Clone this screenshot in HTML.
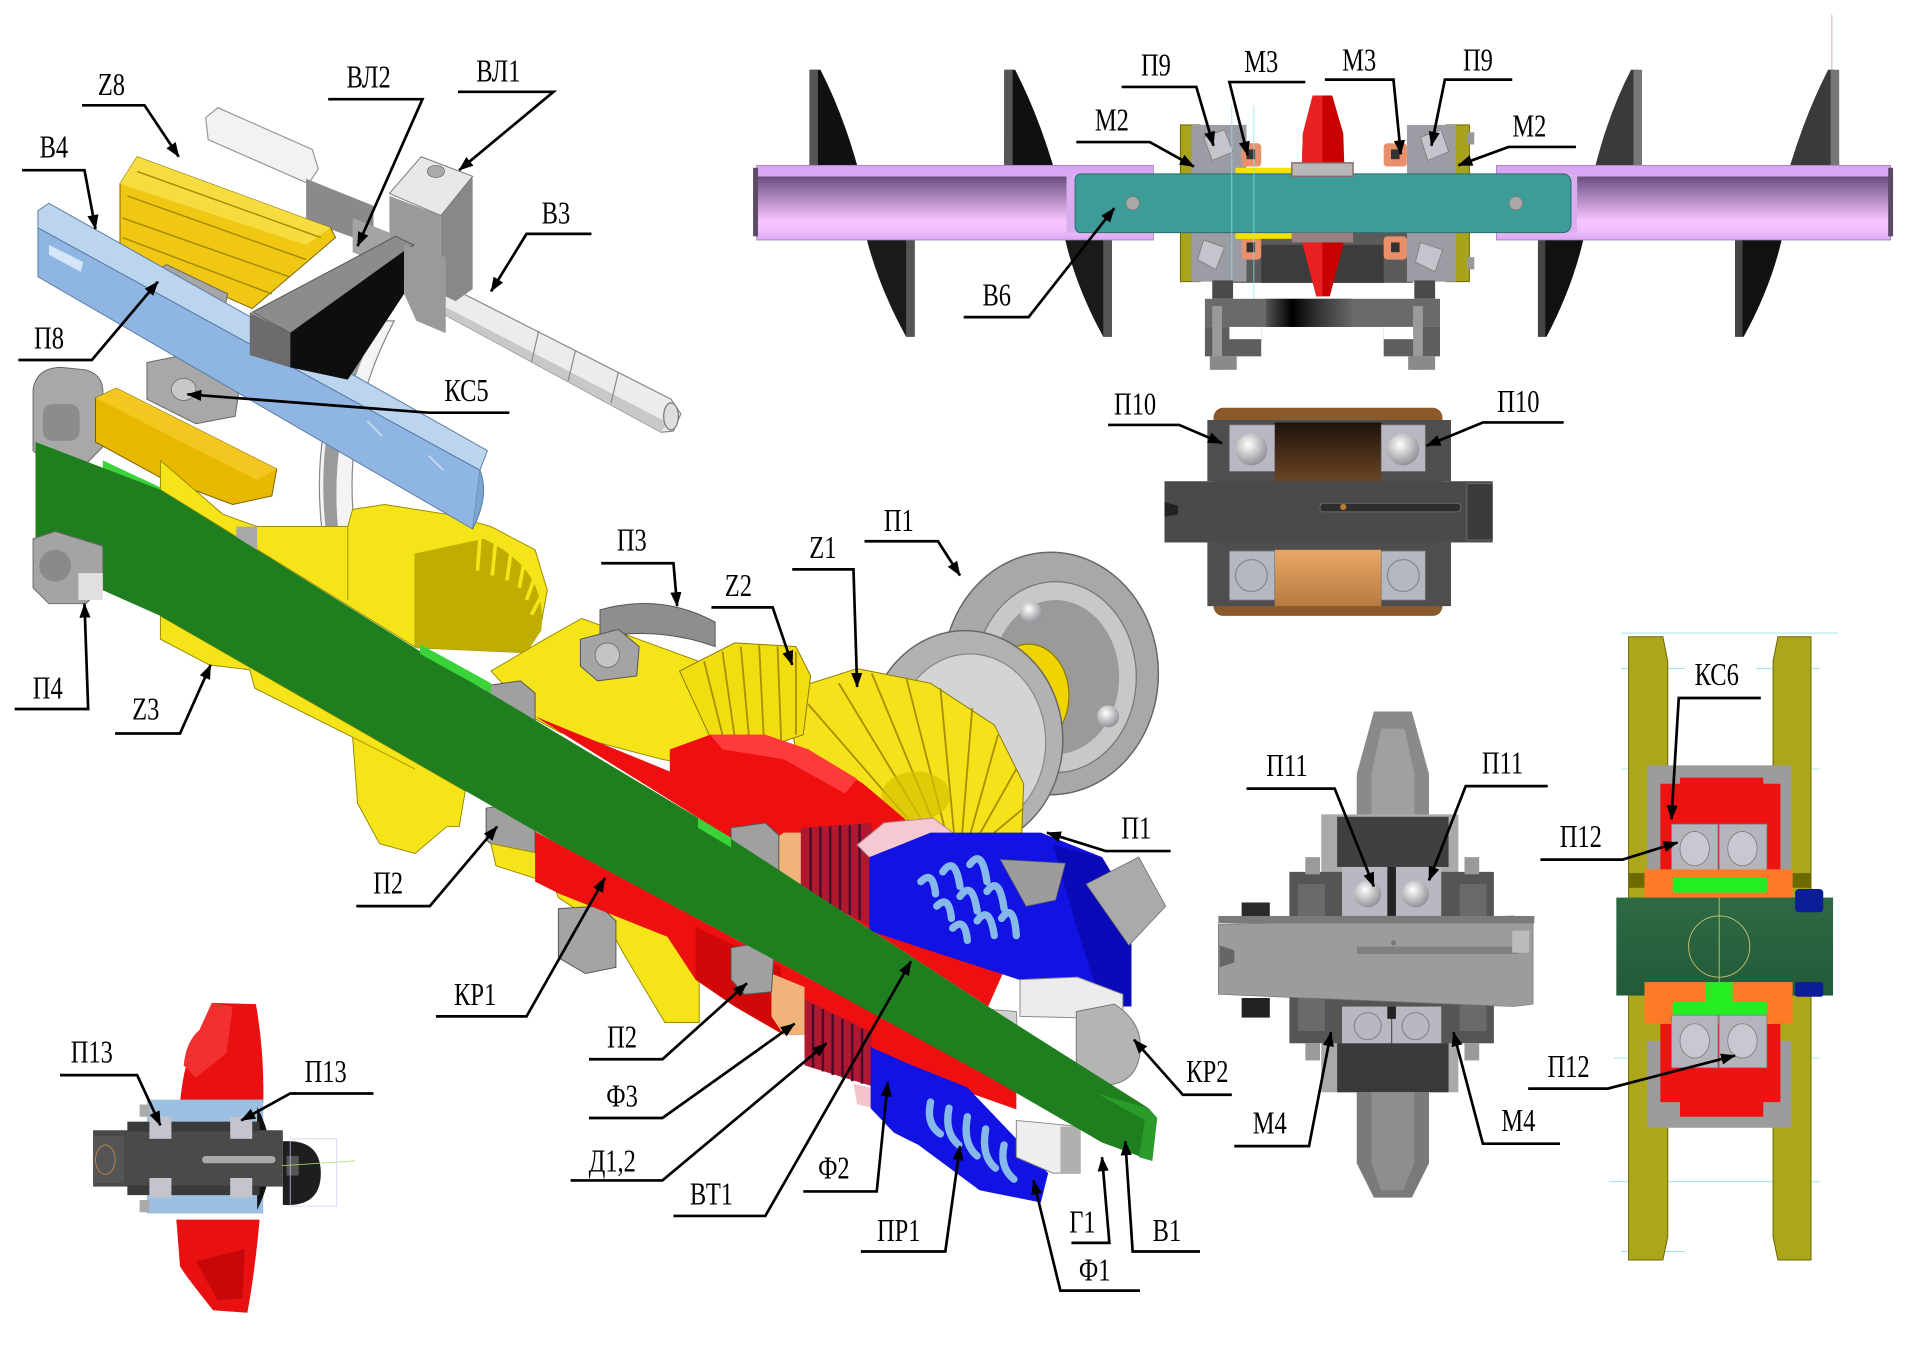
<!DOCTYPE html>
<html><head><meta charset="utf-8">
<style>
html,body{margin:0;padding:0;background:#fff;}
svg{display:block}
.t{font-family:"Liberation Serif","DejaVu Serif",serif;font-size:20px;text-anchor:middle;fill:#000}
.L{fill:none;stroke:#000;stroke-width:2.2;stroke-linejoin:miter}
</style></head><body>
<svg width="1920" height="1358" viewBox="0 0 1568 1109" preserveAspectRatio="none" xmlns="http://www.w3.org/2000/svg">
<defs>
<marker id="a" viewBox="0 0 10 10" refX="9.5" refY="5" markerWidth="12" markerHeight="12" markerUnits="userSpaceOnUse" orient="auto"><path d="M0,1.2 L10,5 L0,8.8 Z" fill="#000"/></marker>
<linearGradient id="pur" x1="0" y1="0" x2="0" y2="1">
<stop offset="0" stop-color="#d8a6f2"/><stop offset="0.14" stop-color="#d8a6f2"/><stop offset="0.16" stop-color="#6f4f82"/><stop offset="0.3" stop-color="#8e6ca4"/><stop offset="0.75" stop-color="#f8c4ff"/><stop offset="0.88" stop-color="#f0bcfc"/><stop offset="1" stop-color="#d8a6f2"/>
</linearGradient>
<linearGradient id="blk" x1="0" y1="0" x2="1" y2="0">
<stop offset="0" stop-color="#555"/><stop offset="0.3" stop-color="#000"/><stop offset="0.6" stop-color="#333"/><stop offset="1" stop-color="#666"/>
</linearGradient>
<linearGradient id="brn" x1="0" y1="0" x2="0" y2="1">
<stop offset="0" stop-color="#1e120a"/><stop offset="1" stop-color="#6a4526"/>
</linearGradient>
<linearGradient id="tan" x1="0" y1="0" x2="0" y2="1">
<stop offset="0" stop-color="#e8a868"/><stop offset="1" stop-color="#b87a40"/>
</linearGradient>
<radialGradient id="ball" cx="0.4" cy="0.35" r="0.7">
<stop offset="0" stop-color="#ffffff"/><stop offset="1" stop-color="#8a8a90"/>
</radialGradient>
<linearGradient id="dg" x1="0" y1="0" x2="0" y2="1">
<stop offset="0" stop-color="#2d6a44"/><stop offset="1" stop-color="#235a38"/>
</linearGradient>
</defs>

<!-- TOP RIGHT -->
<line x1="1496" y1="12" x2="1496" y2="57" stroke="#e0a0c8" stroke-width="0.8"/>
<path d="M662,57 L670,57 Q688,92 700,135 L661,135 Z" fill="#101010"/>
<rect x="661" y="57" width="7" height="78" fill="#555"/>
<path d="M821,57 L829,57 Q847,92 860,135 L820,135 Z" fill="#101010"/>
<rect x="820" y="57" width="7" height="78" fill="#555"/>
<path d="M1338,57 L1332,57 Q1314,92 1303,135 L1341,135 Z" fill="#3a3a3a"/>
<rect x="1334" y="57" width="7" height="78" fill="#777"/>
<path d="M1499,57 L1493,57 Q1475,92 1462,135 L1502,135 Z" fill="#3a3a3a"/>
<rect x="1495" y="57" width="7" height="78" fill="#777"/>
<path d="M708,196 L747,196 L747,275 L740,275 Q718,235 708,196 Z" fill="#1a1a1a"/>
<rect x="740" y="196" width="7" height="79" fill="#555"/>
<path d="M870,196 L908,196 L908,275 L901,275 Q879,235 870,196 Z" fill="#1a1a1a"/>
<rect x="901" y="196" width="7" height="79" fill="#555"/>
<path d="M1293,196 L1256,196 L1256,275 L1263,275 Q1284,235 1293,196 Z" fill="#111"/>
<rect x="1256" y="196" width="6" height="79" fill="#444"/>
<path d="M1455,196 L1417,196 L1417,275 L1424,275 Q1446,235 1455,196 Z" fill="#111"/>
<rect x="1417" y="196" width="6" height="79" fill="#444"/>

<rect x="1007" y="190" width="147" height="41" fill="#5a5a5a"/>
<rect x="1030" y="200" width="100" height="31" fill="#3c3c3c"/>
<rect x="964" y="102" width="16" height="128" fill="#a8a21c" stroke="#6a6600" stroke-width="0.8"/>
<rect x="973" y="102" width="45" height="40" fill="#9c9ca4"/>
<rect x="973" y="189" width="45" height="41" fill="#9c9ca4"/>
<polygon points="983,112 1000,106 1007,124 990,131" fill="#c4c4cc" stroke="#777" stroke-width="0.6"/>
<polygon points="983,196 1000,202 993,220 978,212" fill="#c4c4cc" stroke="#777" stroke-width="0.6"/>
<rect x="1014" y="117" width="16" height="19" rx="3" fill="#e8906c"/>
<rect x="1014" y="193" width="16" height="19" rx="3" fill="#e8906c"/>
<rect x="1018" y="122" width="7" height="8" fill="#333"/>
<rect x="1018" y="198" width="7" height="8" fill="#333"/>
<rect x="1181" y="102" width="19" height="128" fill="#a8a21c" stroke="#6a6600" stroke-width="0.8"/>
<rect x="1149" y="102" width="40" height="40" fill="#9c9ca4"/>
<rect x="1149" y="189" width="40" height="41" fill="#9c9ca4"/>
<polygon points="1160,112 1177,106 1183,124 1166,131" fill="#c4c4cc" stroke="#777" stroke-width="0.6"/>
<polygon points="1160,198 1178,204 1172,222 1156,214" fill="#c4c4cc" stroke="#777" stroke-width="0.6"/>
<rect x="1130" y="117" width="19" height="19" rx="3" fill="#e8906c"/>
<rect x="1130" y="193" width="19" height="19" rx="3" fill="#e8906c"/>
<rect x="1136" y="122" width="7" height="8" fill="#333"/>
<rect x="1136" y="198" width="7" height="8" fill="#333"/>
<rect x="1198" y="108" width="6" height="10" fill="#999"/>
<rect x="1198" y="210" width="6" height="10" fill="#999"/>
<path d="M1072,78 L1088,78 L1097,109 L1098,140 L1097,200 L1086,242 L1075,242 L1064,200 L1063,140 L1064,109 Z" fill="#c80000"/>
<path d="M1072,78 L1064,109 L1063,140 L1064,200 L1075,242 L1080,242 L1080,78 Z" fill="#e82020"/>
<rect x="1009" y="137" width="46" height="5" fill="#f2e400"/>
<rect x="1009" y="190" width="46" height="5" fill="#f2e400"/>

<rect x="618" y="135" width="324" height="61" fill="url(#pur)" stroke="#9c7ab4" stroke-width="0.6"/>
<rect x="615" y="137" width="4" height="56" fill="#5a4a66"/>
<rect x="1222" y="135" width="322" height="61" fill="url(#pur)" stroke="#9c7ab4" stroke-width="0.6"/>
<rect x="1542" y="137" width="4" height="56" fill="#5a4a66"/>
<rect x="871" y="142" width="12" height="48" fill="#d9aef0"/>
<rect x="1276" y="142" width="12" height="48" fill="#d9aef0"/>
<path d="M883,142 L1276,142 Q1283,142 1283,150 L1283,182 Q1283,190 1276,190 L883,190 Q878,190 878,184 L878,148 Q878,142 883,142 Z" fill="#3d9b98" stroke="#2a6e6c" stroke-width="0.8"/>
<circle cx="925" cy="166" r="5.5" fill="#a8a8a8" stroke="#777" stroke-width="0.6"/>
<circle cx="1238" cy="166" r="5.5" fill="#a8a8a8" stroke="#777" stroke-width="0.6"/>
<rect x="1055" y="133" width="50" height="11" fill="#b8b8b8" stroke="#8a6a6a" stroke-width="1.2"/>
<rect x="1055" y="190" width="50" height="8" fill="#9a8080"/>
<line x1="1006" y1="86" x2="1006" y2="244" stroke="#8fe0e8" stroke-width="0.6"/>
<line x1="1024" y1="86" x2="1024" y2="244" stroke="#8fe0e8" stroke-width="0.6"/>
<rect x="990" y="229" width="17" height="15" fill="#4a4a4a"/>
<rect x="1155" y="229" width="17" height="15" fill="#4a4a4a"/>
<rect x="984" y="244" width="192" height="23" fill="#6a6a6a"/>
<rect x="1034" y="244" width="70" height="23" fill="url(#blk)"/>
<rect x="984" y="267" width="46" height="24" fill="#5e5e5e"/>
<rect x="1004" y="267" width="26" height="10" fill="#fff"/>
<rect x="1130" y="267" width="46" height="24" fill="#5e5e5e"/>
<rect x="1130" y="267" width="26" height="10" fill="#fff"/>
<rect x="990" y="250" width="8" height="52" fill="#9a9a9a"/>
<rect x="1154" y="250" width="8" height="52" fill="#9a9a9a"/>
<rect x="988" y="291" width="22" height="11" fill="#8a8a8a"/>
<rect x="1150" y="291" width="22" height="11" fill="#8a8a8a"/>

<!-- П10 -->
<rect x="991" y="333" width="187" height="170" rx="8" fill="#8b5a2b"/>
<rect x="986" y="343" width="199" height="50" fill="#4e4e4e"/>
<rect x="1041" y="345" width="87" height="48" fill="url(#brn)"/>
<rect x="1004" y="347" width="37" height="38" fill="#b8b8c2" stroke="#777" stroke-width="0.6"/>
<circle cx="1022" cy="367" r="13" fill="url(#ball)"/>
<rect x="1128" y="347" width="36" height="38" fill="#b8b8c2" stroke="#777" stroke-width="0.6"/>
<circle cx="1146" cy="367" r="13" fill="url(#ball)"/>
<rect x="986" y="443" width="199" height="52" fill="#4e4e4e"/>
<rect x="1041" y="449" width="87" height="46" fill="url(#tan)"/>
<rect x="1004" y="450" width="37" height="40" fill="#b4b8c0" stroke="#777" stroke-width="0.6"/>
<circle cx="1022" cy="470" r="13" fill="none" stroke="#888" stroke-width="1"/>
<rect x="1128" y="450" width="36" height="40" fill="#b4b8c0" stroke="#777" stroke-width="0.6"/>
<circle cx="1146" cy="470" r="13" fill="none" stroke="#888" stroke-width="1"/>
<rect x="951" y="393" width="268" height="50" fill="#4a4a4a"/>
<rect x="1198" y="395" width="21" height="46" fill="#3a3a3a" stroke="#777" stroke-width="0.6"/>
<rect x="1078" y="411" width="115" height="7" rx="3" fill="#2e2e2e" stroke="#777" stroke-width="0.6"/>
<circle cx="1097" cy="414" r="2.5" fill="#c07830"/>
<polygon points="951,410 962,413 962,420 951,422" fill="#222"/>

<!-- П11 -->
<polygon points="1122,581 1153,581 1167,632 1167,668 1108,668 1108,632" fill="#8a8a8a"/>
<polygon points="1128,595 1147,595 1155,632 1155,668 1120,668 1120,632" fill="#a0a0a0"/>
<rect x="1079" y="665" width="112" height="227" fill="#aaaaaa"/>
<rect x="1053" y="712" width="167" height="140" fill="#555"/>
<rect x="1060" y="722" width="22" height="120" fill="#6a6a6a"/>
<rect x="1192" y="722" width="22" height="120" fill="#6a6a6a"/>
<rect x="1092" y="667" width="91" height="41" fill="#404040"/>
<rect x="1096" y="708" width="40" height="40" fill="#b8b8c2"/>
<rect x="1137" y="708" width="40" height="40" fill="#b8b8c2"/>
<circle cx="1117" cy="730" r="11" fill="url(#ball)"/>
<circle cx="1156" cy="730" r="11" fill="url(#ball)"/>
<rect x="1133" y="708" width="7" height="40" fill="#222"/>
<rect x="1066" y="700" width="12" height="14" fill="#9a9a9a"/>
<rect x="1196" y="700" width="12" height="14" fill="#9a9a9a"/>
<rect x="1066" y="852" width="12" height="14" fill="#9a9a9a"/>
<rect x="1196" y="852" width="12" height="14" fill="#9a9a9a"/>
<rect x="1014" y="737" width="23" height="14" fill="#2a2a2a"/>
<rect x="1014" y="815" width="23" height="16" fill="#222"/>
<polygon points="995,755 1236,748 1252,752 1252,820 1236,822 995,812" fill="#9c9c9c" stroke="#777" stroke-width="0.6"/>
<rect x="995" y="748" width="258" height="6" fill="#7a7a7a"/>
<polygon points="996,772 1008,776 1008,786 996,790" fill="#666"/>
<rect x="1108" y="773" width="132" height="6" fill="#808080"/>
<circle cx="1138" cy="770" r="2" fill="#777"/>
<rect x="1235" y="760" width="14" height="18" fill="#bbb"/>
<rect x="1096" y="822" width="40" height="32" fill="#b8b8c2"/>
<rect x="1137" y="822" width="40" height="32" fill="#b8b8c2"/>
<circle cx="1117" cy="838" r="11" fill="none" stroke="#888"/>
<circle cx="1156" cy="838" r="11" fill="none" stroke="#888"/>
<rect x="1133" y="822" width="7" height="10" fill="#222"/>
<rect x="1092" y="852" width="91" height="40" fill="#3a3a3a"/>
<polygon points="1108,892 1167,892 1167,950 1153,978 1122,978 1108,950" fill="#7a7a7a"/>
<polygon points="1120,892 1155,892 1155,950 1146,972 1128,972 1120,950" fill="#8e8e8e"/>

<!-- КС6 -->
<g stroke="#8fe0e8" stroke-width="0.7">
<line x1="1324" y1="517" x2="1501" y2="517"/>
<line x1="1324" y1="546" x2="1376" y2="546"/><line x1="1434" y1="546" x2="1486" y2="546"/>
<line x1="1324" y1="628" x2="1486" y2="628"/>
<line x1="1318" y1="864" x2="1486" y2="864"/>
<line x1="1314" y1="965" x2="1486" y2="965"/>
<line x1="1324" y1="1022" x2="1376" y2="1022"/>
</g>
<polygon points="1330,520 1358,520 1362,540 1362,1010 1358,1029 1330,1029" fill="#aca61a" stroke="#6a6600" stroke-width="0.8"/>
<polygon points="1452,520 1479,520 1479,1029 1452,1029 1448,1010 1448,540" fill="#aca61a" stroke="#6a6600" stroke-width="0.8"/>
<rect x="1330" y="713" width="149" height="12" fill="#6a6a00"/>
<rect x="1345" y="625" width="118" height="100" fill="#9c9c9c"/>
<polygon points="1356,640 1372,640 1372,635 1440,635 1440,640 1454,640 1454,710 1356,710" fill="#ee1212"/>
<rect x="1365" y="673" width="38" height="42" fill="#b4b4bc" stroke="#777" stroke-width="0.6"/>
<rect x="1404" y="673" width="39" height="42" fill="#b4b4bc" stroke="#777" stroke-width="0.6"/>
<ellipse cx="1384" cy="693" rx="12" ry="14" fill="#c8c8d0" stroke="#777" stroke-width="0.6"/>
<ellipse cx="1423" cy="693" rx="12" ry="14" fill="#c8c8d0" stroke="#777" stroke-width="0.6"/>
<rect x="1343" y="710" width="121" height="33" fill="#ff7a24"/>
<rect x="1366" y="717" width="77" height="12" rx="2" fill="#22ee22"/>
<rect x="1320" y="733" width="177" height="80" fill="url(#dg)"/>
<rect x="1466" y="726" width="23" height="19" rx="3" fill="#0b1e96"/>
<rect x="1466" y="802" width="23" height="12" rx="2" fill="#0b1e96"/>
<line x1="1404" y1="733" x2="1404" y2="813" stroke="#c8c870" stroke-width="0.7"/>
<circle cx="1404" cy="773" r="25" fill="none" stroke="#c8c870" stroke-width="0.7"/>
<rect x="1345" y="850" width="118" height="71" fill="#9c9c9c"/>
<polygon points="1356,836 1454,836 1454,900 1440,900 1440,912 1372,912 1372,900 1356,900" fill="#ee1212"/>
<rect x="1343" y="802" width="121" height="34" fill="#ff7a24"/>
<rect x="1393" y="802" width="22" height="17" fill="#22ee22"/>
<rect x="1366" y="818" width="77" height="11" rx="2" fill="#22ee22"/>
<rect x="1365" y="829" width="38" height="43" fill="#b4b4bc" stroke="#777" stroke-width="0.6"/>
<rect x="1404" y="829" width="39" height="43" fill="#b4b4bc" stroke="#777" stroke-width="0.6"/>
<ellipse cx="1384" cy="850" rx="12" ry="14" fill="#c8c8d0" stroke="#777" stroke-width="0.6"/>
<ellipse cx="1423" cy="850" rx="12" ry="14" fill="#c8c8d0" stroke="#777" stroke-width="0.6"/>

<!-- П13 -->
<path d="M173,819 L209,820 Q216,860 215,901 L147,901 Q150,865 163,841 Z" fill="#e81010"/>
<path d="M173,819 L190,822 L185,860 L160,880 L150,870 Q152,850 163,841 Z" fill="#f23030"/>
<path d="M144,996 L212,996 Q208,1040 202,1072 L174,1070 Q150,1040 147,1034 Z" fill="#e81010"/>
<path d="M160,1030 L200,1020 L198,1060 L178,1062 Z" fill="#c80808"/>
<rect x="120" y="898" width="95" height="19" fill="#9cc0e2"/>
<rect x="120" y="975" width="95" height="16" fill="#9cc0e2"/>
<rect x="114" y="902" width="8" height="10" fill="#aaa"/>
<rect x="114" y="980" width="8" height="10" fill="#aaa"/>
<path d="M210,904 Q232,945 210,988 Z" fill="#111"/>
<rect x="76" y="923" width="155" height="46" fill="#4a4a4a"/>
<rect x="104" y="916" width="108" height="8" fill="#3a3a3a"/>
<rect x="104" y="968" width="108" height="8" fill="#3a3a3a"/>
<rect x="122" y="912" width="18" height="18" fill="#c4c4cc"/>
<rect x="188" y="912" width="18" height="18" fill="#c4c4cc"/>
<rect x="122" y="962" width="18" height="16" fill="#c4c4cc"/>
<rect x="188" y="962" width="18" height="16" fill="#c4c4cc"/>
<rect x="76" y="928" width="25" height="38" fill="#555"/>
<ellipse cx="86" cy="947" rx="8" ry="12" fill="none" stroke="#c08a50" stroke-width="0.7"/>
<rect x="165" y="944" width="60" height="6" rx="3" fill="#aaa"/>
<path d="M231,932 Q262,930 262,958 Q262,986 231,984 Z" fill="#1e1e1e"/>
<rect x="234" y="944" width="10" height="16" fill="#555"/>
<line x1="230" y1="952" x2="290" y2="948" stroke="#b0e070" stroke-width="0.7"/>
<rect x="237" y="930" width="38" height="55" fill="none" stroke="#c8d0f0" stroke-width="0.6"/>

<!-- LEFT TOP -->
<path d="M300,262 Q248,340 265,448 L292,448 Q275,350 322,262 Z" fill="#f4f4f4" stroke="#888" stroke-width="1"/>
<path d="M300,262 Q252,340 268,448 L278,448 Q264,350 310,262 Z" fill="#9a9a9a"/>
<path d="M168,96 L178,88 L255,122 L260,138 L252,150 L170,114 Z" fill="#f2f2f2" stroke="#999" stroke-width="1"/>
<polygon points="250,146 305,168 305,200 250,180" fill="#8a8a8a"/>
<polygon points="288,178 318,190 318,218 288,206" fill="#a4a4a4"/>
<polygon points="98,150 112,128 270,186 274,194 206,252 98,204" fill="#f0c814" stroke="#7a6400" stroke-width="0.8"/>
<polygon points="98,150 112,128 270,186 250,200" fill="#f7dc40"/>
<g stroke="#a88a00" stroke-width="1.2">
<line x1="112" y1="140" x2="262" y2="194"/><line x1="104" y1="160" x2="250" y2="212"/>
<line x1="100" y1="178" x2="236" y2="226"/><line x1="100" y1="194" x2="222" y2="240"/>
</g>
<polygon points="120,226 136,216 186,240 182,258 164,262 120,242" fill="#a6a6a6" stroke="#666" stroke-width="0.8"/>
<ellipse cx="140" cy="236" rx="9" ry="8" fill="#c4c4c4" stroke="#666" stroke-width="0.6"/>
<ellipse cx="165" cy="248" rx="9" ry="8" fill="#c4c4c4" stroke="#666" stroke-width="0.6"/>
<polygon points="343,222 548,326 556,338 550,352 540,353 343,246" fill="#ececec" stroke="#8a8a8a" stroke-width="1"/>
<polygon points="343,240 545,345 540,353 343,246" fill="#c8c8c8"/>
<g stroke="#8a8a8a" stroke-width="1"><line x1="440" y1="270" x2="434" y2="296"/><line x1="470" y1="286" x2="464" y2="311"/><line x1="505" y1="304" x2="499" y2="329"/></g>
<ellipse cx="548" cy="340" rx="6" ry="11" fill="#ddd" stroke="#777" stroke-width="1"/>
<polygon points="318,160 360,176 360,240 330,226 318,220" fill="#9a9a9a"/>
<polygon points="360,160 386,145 386,236 372,246 360,240" fill="#888"/>
<polygon points="318,158 344,128 386,144 360,176" fill="#e8e8e8" stroke="#777" stroke-width="0.8"/>
<ellipse cx="356" cy="140" rx="7" ry="5" fill="#aaa" stroke="#666" stroke-width="0.6"/>

<path d="M27,318 Q30,300 50,300 L70,302 Q84,306 84,320 L84,365 L70,379 L40,379 L27,368 Z" fill="#a8a8a8" stroke="#666" stroke-width="0.8"/>
<rect x="35" y="330" width="30" height="30" rx="8" fill="#8c8c8c"/>
<polygon points="78,325 95,317 226,383 222,405 190,412 131,390 78,361" fill="#e8b800" stroke="#7a6000" stroke-width="0.8"/>
<polygon points="78,325 95,317 226,383 210,392" fill="#f2c820"/>
<polygon points="120,296 150,290 196,314 192,340 160,346 120,326" fill="#a8a8a8" stroke="#666" stroke-width="0.8"/>
<ellipse cx="150" cy="318" rx="10" ry="9" fill="#c8c8c8" stroke="#666" stroke-width="0.6"/>

<polygon points="131,376 182,420 210,430 284,430 288,416 314,412 365,420 401,430 437,449 447,482 441,514 430,533 340,529 131,400" fill="#f5e418" stroke="#9a8a00" stroke-width="0.8"/>
<polygon points="193,430 210,430 210,452 193,448" fill="#a8a8a8"/>
<line x1="284" y1="430" x2="284" y2="490" stroke="#b8a400" stroke-width="1"/>
<line x1="339" y1="452" x2="339" y2="529" stroke="#b8a400" stroke-width="1"/>
<path d="M339,452 L395,440 Q448,465 442,515 L430,533 L339,529 Z" fill="#bfae00"/>
<g stroke="#f5e418" stroke-width="3">
<line x1="405" y1="440" x2="402" y2="470"/><line x1="418" y1="446" x2="414" y2="474"/><line x1="429" y1="455" x2="424" y2="480"/><line x1="438" y1="468" x2="430" y2="490"/><line x1="443" y1="485" x2="434" y2="502"/><line x1="392" y1="438" x2="390" y2="466"/>
</g>
<polygon points="84,376 131,398 131,406 84,385" fill="#3ad43a"/>
<polygon points="131,503 131,522 171,543 204,547 208,562 288,602 292,656 310,689 339,697 365,675 375,675 380,646" fill="#f5e418" stroke="#9a8a00" stroke-width="0.8"/>
<line x1="288" y1="602" x2="339" y2="628" stroke="#b8a400" stroke-width="1"/>

<!-- CENTRAL -->
<ellipse cx="858" cy="550" rx="88" ry="99" fill="#a8a8a8" stroke="#666" stroke-width="1.2"/>
<ellipse cx="862" cy="553" rx="66" ry="78" fill="#c8c8c8" stroke="#777" stroke-width="1"/>
<ellipse cx="862" cy="553" rx="52" ry="63" fill="#9a9a9a"/>
<ellipse cx="840" cy="568" rx="33" ry="42" fill="#efd400" stroke="#8a7a00" stroke-width="1"/>
<circle cx="842" cy="500" r="9" fill="url(#ball)"/>
<circle cx="905" cy="585" r="9" fill="url(#ball)"/>
<ellipse cx="788" cy="604" rx="80" ry="89" fill="#b2b2b2" stroke="#666" stroke-width="1.2"/>
<ellipse cx="792" cy="606" rx="62" ry="72" fill="#d4d4d4" stroke="#888" stroke-width="1"/>
<polygon points="401,548 445,522 475,505 584,545 580,600 567,625 540,620 457,598 437,587" fill="#f5e418" stroke="#9a8a00" stroke-width="0.8"/>
<polygon points="640,565 700,546 760,558 812,592 836,640 834,692 780,696 720,676 680,642 650,612" fill="#f6e21a" stroke="#8a7a00" stroke-width="0.8"/>
<g stroke="#a89000" stroke-width="1.5">
<line x1="760" y1="690" x2="660" y2="575"/><line x1="765" y1="690" x2="685" y2="558"/><line x1="770" y1="690" x2="712" y2="550"/><line x1="775" y1="690" x2="740" y2="553"/><line x1="780" y1="690" x2="768" y2="562"/><line x1="785" y1="690" x2="794" y2="578"/><line x1="790" y1="690" x2="815" y2="600"/><line x1="795" y1="690" x2="830" y2="628"/><line x1="800" y1="690" x2="836" y2="660"/>
</g>
<ellipse cx="748" cy="650" rx="28" ry="20" fill="#d8c000" opacity="0.7"/>
<polygon points="555,548 600,525 650,528 662,552 656,600 620,612 580,602" fill="#f2de10" stroke="#8a7a00" stroke-width="0.8"/>
<g stroke="#a89000" stroke-width="1.5">
<line x1="575" y1="540" x2="590" y2="600"/><line x1="590" y1="532" x2="600" y2="602"/><line x1="605" y1="528" x2="612" y2="606"/><line x1="620" y1="527" x2="624" y2="608"/><line x1="635" y1="528" x2="638" y2="606"/><line x1="650" y1="532" x2="650" y2="600"/>
</g>
<path d="M490,498 Q540,484 584,508 L584,528 Q540,512 490,520 Z" fill="#8e8e8e" stroke="#555" stroke-width="0.8"/>
<polygon points="474,522 505,514 522,528 520,552 488,556 474,544" fill="#a4a4a4" stroke="#555" stroke-width="0.8"/>
<circle cx="496" cy="535" r="10" fill="#c4c4c4" stroke="#666" stroke-width="0.6"/>
<polygon points="397,560 425,556 437,566 437,595 410,598 397,588" fill="#a0a0a0" stroke="#555" stroke-width="0.8"/>
<polygon points="397,660 420,656 437,668 437,697 412,698 397,686" fill="#a0a0a0" stroke="#555" stroke-width="0.8"/>
<polygon points="401,689 441,697 571,762 571,835 543,835 510,780 500,762 456,733 452,722 405,707" fill="#f5e418" stroke="#9a8a00" stroke-width="0.8"/>
<polygon points="456,742 490,740 503,752 503,790 478,795 456,782" fill="#a4a4a4" stroke="#555" stroke-width="0.8"/>
<polygon points="437,585 547,630 547,612 580,600 625,600 660,612 705,640 738,668 762,690 830,738 830,770 807,822 577,672" fill="#ee1010"/>
<polygon points="580,600 625,600 660,612 700,636 690,648 640,620 590,612" fill="#ff3a3a"/>
<polygon points="437,679 657,797 830,890 830,906 700,860 657,845 640,845 600,822 568,800 545,765 457,730 437,720" fill="#ee1010"/>
<polygon points="568,757 638,790 638,844 600,822 568,800" fill="#d00808"/>
<polygon points="627,690 640,680 657,680 657,738 627,725" fill="#f0b47a"/>
<polygon points="630,795 657,806 657,845 640,845 630,830" fill="#f0b47a"/>
<polygon points="597,676 625,672 636,682 636,710 610,712 597,700" fill="#a0a0a0" stroke="#555" stroke-width="0.8"/>
<polygon points="597,774 620,770 632,780 630,810 608,812 597,800" fill="#a0a0a0" stroke="#555" stroke-width="0.8"/>
<polygon points="654,676 712,672 712,757 654,727" fill="#b01830"/>
<polygon points="657,816 712,843 712,887 657,870" fill="#b01830"/>
<g stroke="#4a0c2a" stroke-width="2">
<line x1="662" y1="676" x2="662" y2="731"/><line x1="670" y1="675" x2="670" y2="735"/><line x1="678" y1="675" x2="678" y2="739"/><line x1="686" y1="674" x2="686" y2="743"/><line x1="694" y1="674" x2="694" y2="747"/><line x1="702" y1="673" x2="702" y2="751"/>
<line x1="664" y1="820" x2="664" y2="872"/><line x1="672" y1="824" x2="672" y2="875"/><line x1="680" y1="828" x2="680" y2="878"/><line x1="688" y1="832" x2="688" y2="880"/><line x1="696" y1="836" x2="696" y2="883"/><line x1="704" y1="840" x2="704" y2="885"/>
</g>
<polygon points="700,690 722,672 762,668 778,680 772,706 722,712" fill="#f6c8d2" stroke="#b08890" stroke-width="0.8"/>
<polygon points="697,885 718,890 720,906 700,902" fill="#f4c4cc"/>
<polygon points="710,700 760,680 850,680 900,700 924,740 924,822 900,822 870,810 832,800 740,770 710,760" fill="#1212e2"/>
<polygon points="860,690 900,700 924,740 924,822 900,822 880,760" fill="#0a0ab8"/>
<g stroke="#86b8ea" stroke-width="6" stroke-linecap="round" fill="none">
<path d="M752,720 q10,-10 12,10"/><path d="M765,740 q10,-10 12,10"/><path d="M778,758 q10,-10 12,10"/>
<path d="M770,712 q10,-14 14,12"/><path d="M784,732 q10,-14 14,12"/><path d="M798,752 q10,-14 14,12"/>
<path d="M792,706 q10,-14 14,14"/><path d="M806,728 q10,-14 14,14"/><path d="M818,750 q10,-14 12,14"/>
</g>
<polygon points="817,702 870,705 862,735 838,740" fill="#9c9c9c" stroke="#666" stroke-width="0.6"/>
<polygon points="887,722 930,700 952,740 922,772" fill="#aaaaaa" stroke="#666" stroke-width="0.6"/>
<polygon points="711,855 740,868 790,888 830,930 856,958 850,982 800,972 750,935 730,925 711,905" fill="#1212e2"/>
<g stroke="#86b8ea" stroke-width="6" stroke-linecap="round" fill="none">
<path d="M760,900 q-4,18 8,26"/><path d="M775,905 q-4,20 8,30"/><path d="M790,912 q-4,22 8,32"/><path d="M805,922 q-4,22 8,32"/><path d="M820,935 q-4,18 8,28"/>
</g>
<polygon points="833,800 880,798 917,812 917,832 833,830" fill="#ececec" stroke="#888" stroke-width="0.8"/>
<path d="M879,826 L910,820 Q934,835 931,860 Q928,884 905,886 L879,884 Z" fill="#b4b4b4" stroke="#777" stroke-width="0.8"/>
<polygon points="804,824 830,826 832,866 806,862" fill="#d0d0d0" stroke="#777" stroke-width="0.6"/>
<polygon points="880,885 910,890 912,905 882,902" fill="#cfcfcf" stroke="#777" stroke-width="0.6"/>
<polygon points="830,915 882,920 882,958 860,958 830,945" fill="#eeeeee" stroke="#888" stroke-width="0.8"/>
<rect x="866" y="920" width="16" height="38" fill="#b0b0b0"/>

<polygon points="29,361 131,400 340,530 577,672 807,822 938,905 945,913 941,948 900,933 810,881 657,797 457,690 131,503 84,482 29,447" fill="#1f7f1f"/>
<polygon points="343,526 401,558 401,566 343,534" fill="#3ad43a"/>
<polygon points="570,668 597,684 597,692 570,676" fill="#3ad43a"/>
<polygon points="896,893 938,905 945,913 941,948 930,945 935,915" fill="#2a9a2a"/>
<path d="M27,440 L45,434 L84,446 L84,480 L70,493 L40,493 L27,480 Z" fill="#a4a4a4" stroke="#666" stroke-width="0.8"/>
<circle cx="45" cy="462" r="13" fill="#8a8a8a"/>
<rect x="64" y="468" width="20" height="22" fill="#e0e0e0"/>

<polygon points="31,186 392,384 386,432 31,226" fill="#8fb5e3" stroke="#5a7aa0" stroke-width="0.8"/>
<polygon points="31,172 40,166 398,368 392,384 31,186" fill="#bcd5ee" stroke="#5a7aa0" stroke-width="0.8"/>
<path d="M392,384 Q400,405 386,432" fill="#7ea4d2" stroke="#5a7aa0" stroke-width="0.8"/>
<polygon points="40,200 68,214 66,222 40,208" fill="#d4e6f8"/>
<g stroke="#d0e2f4" stroke-width="1.2"><line x1="300" y1="344" x2="312" y2="356"/><line x1="350" y1="372" x2="362" y2="384"/></g>

<polygon points="206,255 323,193 338,200 237,272" fill="#8c8c8c" stroke="#555" stroke-width="0.8"/>
<polygon points="204,255 237,272 237,300 204,290" fill="#6c6c6c"/>
<polygon points="237,272 330,205 330,240 284,310 237,300" fill="#0e0e0e"/>
<polygon points="330,200 364,210 364,272 340,262 330,240" fill="#9a9a9a"/>

<!-- LABELS -->
<g class="L">
<polyline points="67,86 118,86 146,128" marker-end="url(#a)"/>
<polyline points="268,81 345,81 292,201" marker-end="url(#a)"/>
<polyline points="374,75 452,75 375,139" marker-end="url(#a)"/>
<polyline points="18,139 69,139 78,187" marker-end="url(#a)"/>
<polyline points="483,191 430,191 401,238" marker-end="url(#a)"/>
<polyline points="15,294 75,294 129,230" marker-end="url(#a)"/>
<polyline points="416,337 350,337 153,322" marker-end="url(#a)"/>
<polyline points="491,460 550,460 553,495" marker-end="url(#a)"/>
<polyline points="581,496 631,496 647,543" marker-end="url(#a)"/>
<polyline points="647,465 697,465 700,561" marker-end="url(#a)"/>
<polyline points="706,442 766,442 784,470" marker-end="url(#a)"/>
<polyline points="956,695 903,695 855,680" marker-end="url(#a)"/>
<polyline points="12,579 72,579 69,493" marker-end="url(#a)"/>
<polyline points="94,599 147,599 172,543" marker-end="url(#a)"/>
<polyline points="291,740 351,740 406,675" marker-end="url(#a)"/>
<polyline points="356,830 430,830 494,717" marker-end="url(#a)"/>
<polyline points="481,865 541,865 610,803" marker-end="url(#a)"/>
<polyline points="481,913 541,913 649,836" marker-end="url(#a)"/>
<polyline points="466,964 541,964 675,852" marker-end="url(#a)"/>
<polyline points="550,993 625,993 744,785" marker-end="url(#a)"/>
<polyline points="656,973 716,973 725,884" marker-end="url(#a)"/>
<polyline points="703,1022 772,1022 784,936" marker-end="url(#a)"/>
<polyline points="931,1054 866,1054 844,964" marker-end="url(#a)"/>
<polyline points="875,1015 906,1015 900,945" marker-end="url(#a)"/>
<polyline points="980,1022 925,1022 919,932" marker-end="url(#a)"/>
<polyline points="1006,894 966,894 926,849" marker-end="url(#a)"/>
<polyline points="916,71 977,71 991,119" marker-end="url(#a)"/>
<polyline points="1066,67 1004,67 1019,127" marker-end="url(#a)"/>
<polyline points="1082,65 1138,65 1144,126" marker-end="url(#a)"/>
<polyline points="1235,65 1180,65 1169,119" marker-end="url(#a)"/>
<polyline points="879,116 939,116 975,136" marker-end="url(#a)"/>
<polyline points="1287,120 1232,120 1191,135" marker-end="url(#a)"/>
<polyline points="787,259 840,259 910,170" marker-end="url(#a)"/>
<polyline points="905,347 963,347 998,362" marker-end="url(#a)"/>
<polyline points="1277,345 1211,345 1165,364" marker-end="url(#a)"/>
<polyline points="1018,644 1090,644 1122,724" marker-end="url(#a)"/>
<polyline points="1264,642 1197,642 1167,719" marker-end="url(#a)"/>
<polyline points="1008,936 1069,936 1087,843" marker-end="url(#a)"/>
<polyline points="1274,934 1211,934 1187,843" marker-end="url(#a)"/>
<polyline points="1438,570 1371,570 1365,669" marker-end="url(#a)"/>
<polyline points="1258,702 1325,702 1370,688" marker-end="url(#a)"/>
<polyline points="1248,889 1313,889 1417,862" marker-end="url(#a)"/>
<polyline points="49,878 112,878 131,919" marker-end="url(#a)"/>
<polyline points="305,893 237,893 197,915" marker-end="url(#a)"/>
</g>

<g class="t">
<text transform="matrix(1,0,0,1.3,91,77.6)">Z8</text>
<text transform="matrix(1,0,0,1.3,301,71.6)">ВЛ2</text>
<text transform="matrix(1,0,0,1.3,407,66.6)">ВЛ1</text>
<text transform="matrix(1,0,0,1.3,44,128.6)">В4</text>
<text transform="matrix(1,0,0,1.3,454,182.6)">В3</text>
<text transform="matrix(1,0,0,1.3,40,284.6)">П8</text>
<text transform="matrix(1,0,0,1.3,381,327.6)">КС5</text>
<text transform="matrix(1,0,0,1.3,516,449.6)">П3</text>
<text transform="matrix(1,0,0,1.3,603,486.6)">Z2</text>
<text transform="matrix(1,0,0,1.3,672,455.6)">Z1</text>
<text transform="matrix(1,0,0,1.3,734,433.6)">П1</text>
<text transform="matrix(1,0,0,1.3,928,684.6)">П1</text>
<text transform="matrix(1,0,0,1.3,39,570.6)">П4</text>
<text transform="matrix(1,0,0,1.3,119,587.6)">Z3</text>
<text transform="matrix(1,0,0,1.3,317,729.6)">П2</text>
<text transform="matrix(1,0,0,1.3,388,820.6)">КР1</text>
<text transform="matrix(1,0,0,1.3,508,855.6)">П2</text>
<text transform="matrix(1,0,0,1.3,508,903.6)">Ф3</text>
<text transform="matrix(1,0,0,1.3,500,956.6)">Д1,2</text>
<text transform="matrix(1,0,0,1.3,581,983.6)">ВТ1</text>
<text transform="matrix(1,0,0,1.3,681,962.6)">Ф2</text>
<text transform="matrix(1,0,0,1.3,734,1013.6)">ПР1</text>
<text transform="matrix(1,0,0,1.3,894,1045.6)">Ф1</text>
<text transform="matrix(1,0,0,1.3,884,1006.6)">Г1</text>
<text transform="matrix(1,0,0,1.3,953,1013.6)">В1</text>
<text transform="matrix(1,0,0,1.3,986,883.6)">КР2</text>
<text transform="matrix(1,0,0,1.3,944,61.6)">П9</text>
<text transform="matrix(1,0,0,1.3,1030,58.6)">М3</text>
<text transform="matrix(1,0,0,1.3,1110,57.6)">М3</text>
<text transform="matrix(1,0,0,1.3,1207,57.6)">П9</text>
<text transform="matrix(1,0,0,1.3,908,106.6)">М2</text>
<text transform="matrix(1,0,0,1.3,1249,111.6)">М2</text>
<text transform="matrix(1,0,0,1.3,814,249.6)">В6</text>
<text transform="matrix(1,0,0,1.3,927,338.6)">П10</text>
<text transform="matrix(1,0,0,1.3,1240,336.6)">П10</text>
<text transform="matrix(1,0,0,1.3,1051,633.6)">П11</text>
<text transform="matrix(1,0,0,1.3,1227,631.6)">П11</text>
<text transform="matrix(1,0,0,1.3,1037,925.6)">М4</text>
<text transform="matrix(1,0,0,1.3,1240,923.6)">М4</text>
<text transform="matrix(1,0,0,1.3,1402,559.6)">КС6</text>
<text transform="matrix(1,0,0,1.3,1291,691.6)">П12</text>
<text transform="matrix(1,0,0,1.3,1281,879.6)">П12</text>
<text transform="matrix(1,0,0,1.3,75,867.6)">П13</text>
<text transform="matrix(1,0,0,1.3,266,883.6)">П13</text>
</g>
</svg>
</body></html>
